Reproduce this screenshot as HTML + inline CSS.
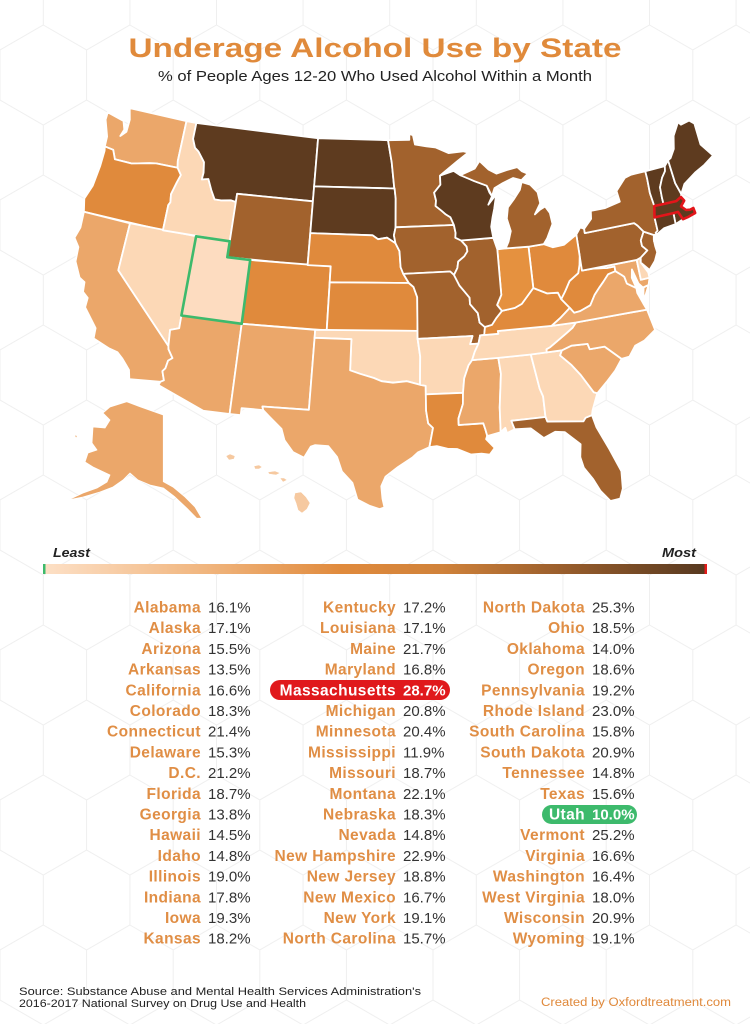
<!DOCTYPE html>
<html><head><meta charset="utf-8">
<style>
html,body{margin:0;padding:0;background:#fff;}
svg{display:block;}
.n{font-family:"Liberation Sans",sans-serif;font-weight:bold;font-size:15.5px;fill:#e08e45;text-anchor:end;letter-spacing:0.4px;}
.v{font-family:"Liberation Sans",sans-serif;font-size:15px;fill:#333;}
.w{fill:#fff;}
</style></head>
<body>
<svg id="root" width="750" height="1024" viewBox="0 0 750 1024" xmlns="http://www.w3.org/2000/svg">
<defs>
<pattern id="hex" width="86.6" height="150" patternUnits="userSpaceOnUse">
<path d="M43.3,25 L86.6,50 L86.6,100 L43.3,125 L0,100 L0,50 Z M43.3,0 L43.3,25 M43.3,125 L43.3,150" fill="none" stroke="#efefef" stroke-width="1"/>
</pattern>
<linearGradient id="lg" x1="0" x2="1" y1="0" y2="0">
<stop offset="0" stop-color="#fde0c6"/>
<stop offset="0.25" stop-color="#f0b47c"/>
<stop offset="0.45" stop-color="#e08a3c"/>
<stop offset="0.6" stop-color="#d0823a"/>
<stop offset="0.78" stop-color="#9a5e2c"/>
<stop offset="1" stop-color="#573920"/>
</linearGradient>
</defs>
<rect width="750" height="1024" fill="#fff"/>
<rect width="750" height="1024" fill="url(#hex)"/>

<text x="375" y="57" text-anchor="middle" font-family="Liberation Sans, sans-serif" font-weight="bold" font-size="27" fill="#e08a3b" textLength="493" lengthAdjust="spacingAndGlyphs">Underage Alcohol Use by State</text>
<text x="375" y="81" text-anchor="middle" font-family="Liberation Sans, sans-serif" font-size="14.5" fill="#222" textLength="434" lengthAdjust="spacingAndGlyphs">% of People Ages 12-20 Who Used Alcohol Within a Month</text>

<g id="map" stroke="#fff" stroke-width="1.8" stroke-linejoin="round"></g>

<!-- Legend -->
<text x="53" y="557" font-family="Liberation Sans, sans-serif" font-weight="bold" font-style="italic" font-size="13" fill="#222" textLength="37" lengthAdjust="spacingAndGlyphs">Least</text>
<text x="662" y="557" font-family="Liberation Sans, sans-serif" font-weight="bold" font-style="italic" font-size="13" fill="#222" textLength="34" lengthAdjust="spacingAndGlyphs">Most</text>
<rect x="44" y="564" width="662" height="10" fill="url(#lg)"/>
<rect x="43" y="564" width="2.5" height="10" fill="#3dba6c"/>
<rect x="704.5" y="564" width="2.5" height="10" fill="#e31b1b"/>

<!-- Table column 1 -->
<g>
<text class="n" x="201" y="612.5">Alabama</text><text class="v" x="208" y="612.5">16.1%</text>
<text class="n" x="201" y="633.2">Alaska</text><text class="v" x="208" y="633.2">17.1%</text>
<text class="n" x="201" y="653.9">Arizona</text><text class="v" x="208" y="653.9">15.5%</text>
<text class="n" x="201" y="674.6">Arkansas</text><text class="v" x="208" y="674.6">13.5%</text>
<text class="n" x="201" y="695.3">California</text><text class="v" x="208" y="695.3">16.6%</text>
<text class="n" x="201" y="716.0">Colorado</text><text class="v" x="208" y="716.0">18.3%</text>
<text class="n" x="201" y="736.7">Connecticut</text><text class="v" x="208" y="736.7">21.4%</text>
<text class="n" x="201" y="757.4">Delaware</text><text class="v" x="208" y="757.4">15.3%</text>
<text class="n" x="201" y="778.1">D.C.</text><text class="v" x="208" y="778.1">21.2%</text>
<text class="n" x="201" y="798.8">Florida</text><text class="v" x="208" y="798.8">18.7%</text>
<text class="n" x="201" y="819.5">Georgia</text><text class="v" x="208" y="819.5">13.8%</text>
<text class="n" x="201" y="840.2">Hawaii</text><text class="v" x="208" y="840.2">14.5%</text>
<text class="n" x="201" y="860.9">Idaho</text><text class="v" x="208" y="860.9">14.8%</text>
<text class="n" x="201" y="881.6">Illinois</text><text class="v" x="208" y="881.6">19.0%</text>
<text class="n" x="201" y="902.3">Indiana</text><text class="v" x="208" y="902.3">17.8%</text>
<text class="n" x="201" y="923.0">Iowa</text><text class="v" x="208" y="923.0">19.3%</text>
<text class="n" x="201" y="943.7">Kansas</text><text class="v" x="208" y="943.7">18.2%</text>
</g>
<!-- Table column 2 -->
<g>
<rect x="270" y="680" width="180" height="20" rx="10" fill="#e0191c"/>
<text class="n" x="396" y="612.5">Kentucky</text><text class="v" x="403" y="612.5">17.2%</text>
<text class="n" x="396" y="633.2">Louisiana</text><text class="v" x="403" y="633.2">17.1%</text>
<text class="n" x="396" y="653.9">Maine</text><text class="v" x="403" y="653.9">21.7%</text>
<text class="n" x="396" y="674.6">Maryland</text><text class="v" x="403" y="674.6">16.8%</text>
<text class="n w" x="396" y="695.3">Massachusetts</text><text class="v w" font-weight="bold" x="403" y="695.3">28.7%</text>
<text class="n" x="396" y="716.0">Michigan</text><text class="v" x="403" y="716.0">20.8%</text>
<text class="n" x="396" y="736.7">Minnesota</text><text class="v" x="403" y="736.7">20.4%</text>
<text class="n" x="396" y="757.4">Mississippi</text><text class="v" x="403" y="757.4">11.9%</text>
<text class="n" x="396" y="778.1">Missouri</text><text class="v" x="403" y="778.1">18.7%</text>
<text class="n" x="396" y="798.8">Montana</text><text class="v" x="403" y="798.8">22.1%</text>
<text class="n" x="396" y="819.5">Nebraska</text><text class="v" x="403" y="819.5">18.3%</text>
<text class="n" x="396" y="840.2">Nevada</text><text class="v" x="403" y="840.2">14.8%</text>
<text class="n" x="396" y="860.9">New Hampshire</text><text class="v" x="403" y="860.9">22.9%</text>
<text class="n" x="396" y="881.6">New Jersey</text><text class="v" x="403" y="881.6">18.8%</text>
<text class="n" x="396" y="902.3">New Mexico</text><text class="v" x="403" y="902.3">16.7%</text>
<text class="n" x="396" y="923.0">New York</text><text class="v" x="403" y="923.0">19.1%</text>
<text class="n" x="396" y="943.7">North Carolina</text><text class="v" x="403" y="943.7">15.7%</text>
</g>
<!-- Table column 3 -->
<g>
<rect x="542" y="805" width="95" height="19" rx="9.5" fill="#3dba6c"/>
<text class="n" x="585" y="612.5">North Dakota</text><text class="v" x="592" y="612.5">25.3%</text>
<text class="n" x="585" y="633.2">Ohio</text><text class="v" x="592" y="633.2">18.5%</text>
<text class="n" x="585" y="653.9">Oklahoma</text><text class="v" x="592" y="653.9">14.0%</text>
<text class="n" x="585" y="674.6">Oregon</text><text class="v" x="592" y="674.6">18.6%</text>
<text class="n" x="585" y="695.3">Pennsylvania</text><text class="v" x="592" y="695.3">19.2%</text>
<text class="n" x="585" y="716.0">Rhode Island</text><text class="v" x="592" y="716.0">23.0%</text>
<text class="n" x="585" y="736.7">South Carolina</text><text class="v" x="592" y="736.7">15.8%</text>
<text class="n" x="585" y="757.4">South Dakota</text><text class="v" x="592" y="757.4">20.9%</text>
<text class="n" x="585" y="778.1">Tennessee</text><text class="v" x="592" y="778.1">14.8%</text>
<text class="n" x="585" y="798.8">Texas</text><text class="v" x="592" y="798.8">15.6%</text>
<text class="n w" x="585" y="819.5">Utah</text><text class="v w" font-weight="bold" x="592" y="819.5">10.0%</text>
<text class="n" x="585" y="840.2">Vermont</text><text class="v" x="592" y="840.2">25.2%</text>
<text class="n" x="585" y="860.9">Virginia</text><text class="v" x="592" y="860.9">16.6%</text>
<text class="n" x="585" y="881.6">Washington</text><text class="v" x="592" y="881.6">16.4%</text>
<text class="n" x="585" y="902.3">West Virginia</text><text class="v" x="592" y="902.3">18.0%</text>
<text class="n" x="585" y="923.0">Wisconsin</text><text class="v" x="592" y="923.0">20.9%</text>
<text class="n" x="585" y="943.7">Wyoming</text><text class="v" x="592" y="943.7">19.1%</text>
</g>

<!-- Footer -->
<text x="19" y="995" font-family="Liberation Sans, sans-serif" font-size="11" fill="#222" textLength="402" lengthAdjust="spacingAndGlyphs">Source: Substance Abuse and Mental Health Services Administration's</text>
<text x="19" y="1007" font-family="Liberation Sans, sans-serif" font-size="11" fill="#222" textLength="287" lengthAdjust="spacingAndGlyphs">2016-2017 National Survey on Drug Use and Health</text>
<text x="541" y="1006" font-family="Liberation Sans, sans-serif" font-size="11.5" fill="#e0893b" textLength="190" lengthAdjust="spacingAndGlyphs">Created by Oxfordtreatment.com</text>
</svg>

<script>
(function(){
var DG=Math.PI/180;
var n=(Math.sin(29.5*DG)+Math.sin(45.5*DG))/2;
var C=Math.pow(Math.cos(29.5*DG),2)+2*n*Math.sin(29.5*DG);
var rho0=Math.sqrt(C-2*n*Math.sin(37.5*DG))/n;
function P(lon,lat){
  var th=n*(lon+96)*DG;
  var r=Math.sqrt(C-2*n*Math.sin(lat*DG))/n;
  var x=r*Math.sin(th), y=rho0-r*Math.cos(th);
  return [400.6+885*x, 323.3-910*y-15.2*x+30*x*x];
}
var D='#5e3b1f',B='#a2622d',O='#e08a3c',L='#eba76a',PL='#fcd8b6';
var S=[
['WA',L,[[[-124.7,48.38],[-123.0,48.12],[-122.7,47.6],[-122.9,47.15],[-122.45,47.5],[-122.45,48.3],[-122.75,49.0],[-117.04,49.0],[-117.04,46.42],[-116.92,46.0],[-118.98,46.0],[-119.6,45.92],[-121.2,45.65],[-122.8,45.65],[-123.2,46.2],[-124.05,46.27],[-124.1,46.9],[-124.7,47.9]]]],
['OR',O,[[[-124.05,46.27],[-123.2,46.2],[-122.8,45.65],[-121.2,45.65],[-119.6,45.92],[-118.98,46.0],[-116.92,46.0],[-116.48,45.6],[-116.7,45.1],[-117.0,44.3],[-116.9,43.8],[-117.03,43.6],[-117.03,42.0],[-124.2,42.0],[-124.5,42.8],[-124.1,43.7],[-123.95,45.0],[-123.95,46.0]]]],
['CA',L,[[[-124.2,42.0],[-120.0,42.0],[-120.0,39.0],[-114.63,35.0],[-114.57,34.8],[-114.13,34.3],[-114.43,34.1],[-114.53,33.6],[-114.72,33.4],[-114.47,32.85],[-114.72,32.72],[-117.12,32.53],[-117.3,33.1],[-118.0,33.7],[-118.5,34.03],[-119.2,34.15],[-120.6,34.55],[-120.65,35.2],[-121.9,36.3],[-121.9,36.9],[-122.4,37.2],[-122.5,37.8],[-123.0,38.0],[-123.7,38.9],[-123.8,39.8],[-124.35,40.3],[-124.1,41.0]]]],
['NV',PL,[[[-120.0,42.0],[-114.04,42.0],[-114.04,36.2],[-114.74,36.0],[-114.63,35.0],[-120.0,39.0]]]],
['ID',PL,[[[-117.04,49.0],[-116.05,49.0],[-116.05,47.98],[-115.7,47.45],[-115.3,47.25],[-114.6,46.65],[-114.45,46.0],[-114.5,45.56],[-113.9,45.65],[-113.45,45.0],[-113.0,44.45],[-112.4,44.45],[-111.5,44.55],[-111.05,44.48],[-111.05,42.0],[-117.03,42.0],[-117.03,43.6],[-116.9,43.8],[-117.0,44.3],[-116.7,45.1],[-116.48,45.6],[-116.92,46.0],[-117.04,46.42]]]],
['MT',D,[[[-116.05,49.0],[-104.05,49.0],[-104.05,45.0],[-111.05,45.0],[-111.05,44.48],[-111.5,44.55],[-112.4,44.45],[-113.0,44.45],[-113.45,45.0],[-113.9,45.65],[-114.5,45.56],[-114.45,46.0],[-114.6,46.65],[-115.3,47.25],[-115.7,47.45],[-116.05,47.98]]]],
['WY',B,[[[-111.05,45.0],[-104.05,45.0],[-104.05,41.0],[-111.05,41.0]]]],
['UT','#fddcc0',[[[-114.05,42.0],[-111.05,42.0],[-111.05,41.0],[-109.05,41.0],[-109.05,37.0],[-114.05,37.0]]]],
['CO',O,[[[-109.05,41.0],[-102.05,41.0],[-102.05,37.0],[-109.05,37.0]]]],
['AZ',L,[[[-114.05,37.0],[-109.05,37.0],[-109.05,31.33],[-111.07,31.33],[-114.81,32.49],[-114.72,32.72],[-114.47,32.85],[-114.72,33.4],[-114.53,33.6],[-114.43,34.1],[-114.13,34.3],[-114.57,34.8],[-114.63,35.0],[-114.74,36.0],[-114.04,36.2]]]],
['NM',L,[[[-109.05,37.0],[-103.0,37.0],[-103.0,36.5],[-103.04,32.0],[-106.62,32.0],[-106.53,31.78],[-108.2,31.78],[-108.2,31.33],[-109.05,31.33]]]],
['ND',D,[[[-104.05,49.0],[-97.23,49.0],[-96.85,47.6],[-96.6,46.0],[-96.56,45.94],[-104.05,45.94]]]],
['SD',D,[[[-104.05,45.94],[-96.56,45.94],[-96.45,45.3],[-96.45,43.5],[-96.6,43.0],[-96.45,42.5],[-97.2,42.85],[-98.0,42.76],[-98.5,43.0],[-104.05,43.0]]]],
['NE',O,[[[-104.05,43.0],[-98.5,43.0],[-98.0,42.76],[-97.2,42.85],[-96.45,42.5],[-96.1,42.0],[-96.0,41.0],[-95.77,40.58],[-95.3,40.0],[-102.05,40.0],[-102.05,41.0],[-104.05,41.0]]]],
['KS',O,[[[-102.05,40.0],[-95.3,40.0],[-94.9,39.75],[-94.6,39.1],[-94.62,37.0],[-102.05,37.0]]]],
['OK',PL,[[[-103.0,37.0],[-94.62,37.0],[-94.62,36.5],[-94.43,35.4],[-94.48,33.64],[-95.5,33.88],[-96.6,33.8],[-97.5,33.9],[-98.1,34.1],[-99.2,34.35],[-100.0,34.56],[-100.0,36.5],[-103.0,36.5]]]],
['TX',L,[[[-103.0,36.5],[-100.0,36.5],[-100.0,34.56],[-99.2,34.35],[-98.1,34.1],[-97.5,33.9],[-96.6,33.8],[-95.5,33.88],[-94.48,33.64],[-94.04,33.55],[-94.04,32.0],[-93.9,31.2],[-93.55,30.9],[-93.7,30.3],[-93.85,29.7],[-94.7,29.4],[-95.1,29.1],[-96.2,28.5],[-97.1,27.9],[-97.4,27.3],[-97.3,26.5],[-97.15,25.95],[-97.5,25.85],[-98.2,26.05],[-99.1,26.45],[-99.5,27.5],[-100.3,28.2],[-100.7,29.1],[-101.4,29.77],[-102.4,29.8],[-102.7,29.7],[-103.15,28.98],[-104.0,29.3],[-104.7,30.0],[-105.0,30.7],[-106.0,31.4],[-106.53,31.78],[-106.62,32.0],[-103.04,32.0]]]],
['MN',B,[[[-97.23,49.0],[-95.15,49.0],[-95.15,49.38],[-94.8,49.3],[-94.6,48.7],[-93.5,48.55],[-92.6,48.45],[-91.4,48.05],[-90.0,48.1],[-89.5,48.0],[-90.6,47.5],[-92.1,46.75],[-92.3,46.65],[-92.29,46.08],[-92.9,45.6],[-92.75,45.1],[-92.8,44.75],[-92.3,44.45],[-91.9,44.2],[-91.5,44.0],[-91.22,43.5],[-96.45,43.5],[-96.45,45.3],[-96.56,45.94],[-96.6,46.0],[-96.85,47.6]]]],
['IA',B,[[[-96.45,43.5],[-91.22,43.5],[-91.1,43.0],[-91.15,42.7],[-90.65,42.5],[-90.2,42.1],[-90.15,41.8],[-90.45,41.5],[-91.0,41.2],[-91.1,40.8],[-91.42,40.38],[-91.73,40.61],[-95.77,40.58],[-96.0,41.0],[-96.1,42.0],[-96.45,42.5],[-96.6,43.0]]]],
['MO',B,[[[-95.77,40.58],[-91.73,40.61],[-91.42,40.38],[-91.0,39.7],[-90.6,39.3],[-90.2,38.9],[-90.2,38.5],[-89.6,37.9],[-89.5,37.3],[-89.1,37.0],[-89.1,36.95],[-89.2,36.5],[-89.53,36.5],[-89.7,36.0],[-90.38,36.0],[-90.15,36.5],[-94.62,36.5],[-94.62,37.0],[-94.6,39.1],[-94.9,39.75],[-95.3,40.0]]]],
['AR',PL,[[[-94.62,36.5],[-90.15,36.5],[-90.38,36.0],[-89.7,36.0],[-90.05,35.5],[-90.3,35.0],[-90.6,34.7],[-91.0,33.9],[-91.15,33.0],[-94.04,33.02],[-94.04,33.55],[-94.48,33.64],[-94.43,35.4]]]],
['LA',O,[[[-94.04,33.02],[-91.15,33.0],[-91.2,32.3],[-91.6,31.4],[-91.6,31.0],[-89.73,31.0],[-89.6,30.6],[-89.5,30.2],[-89.6,30.0],[-89.0,29.4],[-89.4,29.0],[-90.0,29.1],[-90.8,29.1],[-91.8,29.5],[-92.5,29.55],[-93.3,29.75],[-93.85,29.7],[-93.7,30.3],[-93.55,30.9],[-93.9,31.2],[-94.04,32.0]]]],
['MS',L,[[[-91.15,33.0],[-91.0,33.9],[-90.6,34.7],[-90.3,35.0],[-88.2,35.0],[-88.1,34.0],[-88.4,31.9],[-88.47,30.35],[-89.4,30.2],[-89.5,30.2],[-89.6,30.6],[-89.73,31.0],[-91.6,31.0],[-91.6,31.4],[-91.2,32.3]]]],
['AL',PL,[[[-88.2,35.0],[-85.6,35.0],[-85.2,32.8],[-85.0,32.3],[-85.0,31.0],[-87.6,31.0],[-87.4,30.45],[-88.0,30.25],[-88.1,30.6],[-88.47,30.35],[-88.4,31.9],[-88.1,34.0]]]],
['GA',PL,[[[-85.6,35.0],[-84.32,35.0],[-83.1,35.0],[-83.3,34.7],[-82.5,34.0],[-81.9,33.3],[-81.1,32.1],[-80.85,32.0],[-81.4,31.0],[-81.5,30.7],[-82.0,30.6],[-82.2,30.4],[-84.9,30.7],[-85.0,31.0],[-85.0,32.3],[-85.2,32.8]]]],
['FL',B,[[[-87.6,31.0],[-85.0,31.0],[-84.9,30.7],[-82.2,30.4],[-82.0,30.6],[-81.5,30.7],[-81.3,29.9],[-80.6,28.4],[-80.0,26.9],[-80.1,25.8],[-80.4,25.2],[-81.1,25.15],[-81.7,25.9],[-82.1,26.7],[-82.65,27.5],[-82.8,28.2],[-82.65,29.0],[-83.7,29.9],[-84.4,30.0],[-85.3,29.7],[-86.2,30.4],[-87.4,30.45]]]],
['SC',L,[[[-83.1,35.0],[-82.3,35.2],[-81.0,35.15],[-80.9,34.8],[-79.7,34.8],[-78.55,33.85],[-79.2,33.2],[-80.0,32.6],[-80.85,32.0],[-81.1,32.1],[-81.9,33.3],[-82.5,34.0],[-83.3,34.7]]]],
['NC',L,[[[-84.32,35.0],[-83.1,35.0],[-82.3,35.2],[-81.0,35.15],[-80.9,34.8],[-79.7,34.8],[-78.55,33.85],[-77.9,33.9],[-77.3,34.5],[-76.5,34.7],[-75.5,35.2],[-75.8,36.55],[-81.68,36.59],[-82.0,36.3],[-82.6,36.0],[-83.5,35.55],[-84.0,35.3],[-84.32,35.2]]]],
['TN',PL,[[[-90.3,35.0],[-88.2,35.0],[-85.6,35.0],[-84.32,35.0],[-84.32,35.2],[-84.0,35.3],[-83.5,35.55],[-82.6,36.0],[-82.0,36.3],[-81.68,36.59],[-83.68,36.6],[-88.07,36.68],[-88.05,36.5],[-89.53,36.5],[-89.7,36.0],[-90.05,35.5]]]],
['KY',O,[[[-89.53,36.5],[-88.05,36.5],[-88.07,36.68],[-83.68,36.6],[-82.9,37.0],[-82.0,37.55],[-82.6,38.17],[-82.8,38.6],[-83.7,38.65],[-84.8,39.1],[-85.9,38.2],[-86.5,38.0],[-87.6,37.9],[-88.1,37.5],[-88.5,37.1],[-89.1,37.0],[-89.1,36.95],[-89.2,36.5]]]],
['WV',O,[[[-82.6,38.17],[-82.0,37.55],[-81.7,37.2],[-81.2,37.25],[-80.3,37.5],[-79.8,38.1],[-79.3,38.5],[-78.9,38.8],[-78.4,39.2],[-77.75,39.3],[-77.75,39.6],[-78.4,39.6],[-79.48,39.72],[-80.52,39.72],[-80.52,40.64],[-80.65,40.1],[-80.87,39.6],[-81.7,39.2],[-82.2,38.6]]]],
['VA',L,[[[-83.68,36.6],[-81.68,36.59],[-75.8,36.55],[-76.0,37.0],[-76.3,37.7],[-76.3,38.0],[-77.0,38.4],[-77.1,38.85],[-77.3,39.0],[-77.75,39.3],[-78.4,39.2],[-78.9,38.8],[-79.3,38.5],[-79.8,38.1],[-80.3,37.5],[-81.2,37.25],[-81.7,37.2],[-82.0,37.55],[-82.9,37.0]],[[-75.25,38.03],[-75.7,37.95],[-75.95,37.15],[-75.6,37.55]]]],
['MD',L,[[[-79.48,39.72],[-75.79,39.72],[-75.79,38.45],[-75.05,38.45],[-75.25,38.03],[-75.75,37.95],[-76.05,38.25],[-76.35,39.2],[-76.5,38.7],[-76.3,38.0],[-77.0,38.4],[-77.1,38.85],[-77.3,39.0],[-77.75,39.3],[-77.75,39.6],[-78.4,39.6]]]],
['DE',PL,[[[-75.79,39.72],[-75.42,39.8],[-75.5,39.5],[-75.05,38.8],[-75.05,38.45],[-75.79,38.45]]]],
['PA',B,[[[-80.52,39.72],[-80.52,42.0],[-80.08,42.4],[-79.76,42.27],[-79.76,42.0],[-75.35,42.0],[-75.1,41.8],[-74.7,41.35],[-75.1,40.85],[-75.1,40.5],[-74.73,40.15],[-75.42,39.8],[-75.79,39.72]]]],
['NJ',B,[[[-74.7,41.35],[-73.9,40.99],[-74.0,40.7],[-74.0,40.3],[-73.95,39.9],[-74.3,39.4],[-74.9,38.93],[-75.5,39.5],[-75.42,39.8],[-74.73,40.15],[-75.1,40.5],[-75.1,40.85]]]],
['NY',B,[[[-79.76,42.0],[-79.76,42.27],[-79.0,42.8],[-78.9,43.3],[-77.6,43.3],[-76.2,43.5],[-76.3,44.2],[-75.3,44.9],[-74.7,45.0],[-73.35,45.0],[-73.35,44.5],[-73.4,43.6],[-73.28,42.75],[-73.5,42.05],[-73.5,41.2],[-73.7,41.1],[-73.65,40.98],[-73.9,40.99],[-74.7,41.35],[-75.1,41.8],[-75.35,42.0]],[[-74.0,40.6],[-73.0,40.8],[-71.9,41.1],[-72.6,40.85],[-73.9,40.55]]]],
['VT',D,[[[-73.35,45.0],[-71.5,45.01],[-71.6,44.7],[-72.0,44.35],[-72.4,43.8],[-72.45,43.15],[-72.45,42.73],[-73.28,42.75],[-73.4,43.6],[-73.35,44.5]]]],
['NH',D,[[[-71.5,45.01],[-71.08,45.3],[-70.98,43.8],[-70.7,43.05],[-70.8,42.87],[-71.3,42.7],[-72.45,42.73],[-72.45,43.15],[-72.4,43.8],[-72.0,44.35],[-71.6,44.7]]]],
['ME',D,[[[-71.08,45.3],[-70.98,43.8],[-70.7,43.05],[-70.2,43.6],[-69.0,44.1],[-68.0,44.4],[-67.0,44.8],[-67.8,45.7],[-67.8,47.07],[-68.2,47.35],[-69.05,47.25],[-69.25,47.46],[-70.0,46.7],[-70.3,45.9],[-70.8,45.4]]]],
['RI',D,[[[-71.8,42.02],[-71.38,42.02],[-71.12,41.5],[-71.85,41.32]]]],
['CT',D,[[[-73.5,42.05],[-71.8,42.02],[-71.85,41.32],[-72.9,41.25],[-73.65,40.98],[-73.7,41.1],[-73.5,41.2]]]],
['OH',O,[[[-84.8,41.7],[-83.45,41.73],[-82.7,41.45],[-81.7,41.5],[-80.52,42.0],[-80.52,40.64],[-80.65,40.1],[-80.87,39.6],[-81.7,39.2],[-82.2,38.6],[-82.6,38.17],[-82.8,38.6],[-83.7,38.65],[-84.8,39.1]]]],
['IN','#e5913f',[[[-87.53,41.76],[-86.8,41.76],[-84.8,41.7],[-84.8,39.1],[-85.9,38.2],[-86.5,38.0],[-87.6,37.9],[-87.95,38.3],[-87.53,38.9]]]],
['IL',B,[[[-90.65,42.5],[-87.8,42.5],[-87.53,41.76],[-87.53,38.9],[-87.95,38.3],[-87.6,37.9],[-88.1,37.5],[-88.5,37.1],[-89.1,37.0],[-89.5,37.3],[-89.6,37.9],[-90.2,38.5],[-90.2,38.9],[-90.6,39.3],[-91.0,39.7],[-91.42,40.38],[-91.1,40.8],[-91.0,41.2],[-90.45,41.5],[-90.15,41.8],[-90.2,42.1]]]],
['WI',D,[[[-92.29,46.08],[-92.3,46.65],[-92.0,46.72],[-91.0,46.9],[-90.4,46.6],[-90.0,46.5],[-89.1,46.15],[-88.0,45.8],[-87.8,45.35],[-87.6,45.1],[-88.0,44.6],[-87.2,45.2],[-87.5,44.3],[-87.7,43.8],[-87.9,43.2],[-87.8,42.5],[-90.65,42.5],[-91.15,42.7],[-91.1,43.0],[-91.22,43.5],[-91.5,44.0],[-91.9,44.2],[-92.3,44.45],[-92.8,44.75],[-92.75,45.1],[-92.9,45.6]]]],
['MI',B,[[[-86.8,41.76],[-84.8,41.7],[-83.45,41.73],[-83.1,42.05],[-82.45,42.9],[-82.55,43.6],[-82.9,44.05],[-83.4,43.9],[-83.9,43.65],[-83.3,44.3],[-83.4,45.0],[-84.0,45.55],[-84.75,45.78],[-85.0,45.3],[-85.6,44.8],[-86.25,44.3],[-86.45,43.6],[-86.2,42.8],[-86.5,42.15]],[[-90.4,46.6],[-89.1,46.15],[-88.0,45.8],[-87.6,45.1],[-87.3,45.6],[-86.5,45.85],[-85.5,46.1],[-84.75,45.9],[-84.1,46.25],[-84.6,46.45],[-85.0,46.75],[-86.0,46.65],[-87.0,46.5],[-87.7,46.8],[-88.3,47.25],[-88.5,47.4],[-89.0,46.95],[-89.6,46.8]]]]
];
var NS='http://www.w3.org/2000/svg';
var g=document.getElementById('map');
function mk(d,fill,stroke,sw){
  var p=document.createElementNS(NS,'path');
  p.setAttribute('d',d);p.setAttribute('fill',fill);
  if(stroke){p.setAttribute('stroke',stroke);p.setAttribute('stroke-width',sw);}
  g.appendChild(p);return p;
}
function pathOf(polys){
  return polys.map(function(poly){
    return 'M'+poly.map(function(q){var r=P(q[0],q[1]);return r[0].toFixed(1)+','+r[1].toFixed(1);}).join('L')+'Z';
  }).join('');
}
var dUT='',dMA='';
S.forEach(function(s){
  var d=pathOf(s[2]);
  mk(d,s[1]);
  if(s[0]==='UT')dUT=d;
});
// Massachusetts
dMA=pathOf([[[-73.5,42.05],[-73.28,42.75],[-72.45,42.73],[-71.3,42.7],[-70.8,42.87],[-70.6,42.6],[-71.0,42.3],[-70.65,42.0],[-70.3,41.95],[-70.0,42.0],[-69.95,41.67],[-70.6,41.55],[-71.12,41.5],[-71.38,42.02],[-71.8,42.02]]]);
mk(dMA,'#5e3b1f');
// Alaska (pixel coords)
var ak=[[126.7,401.7],[140,406.7],[163.3,415],[163.3,481.7],[173,487],[185,497],[195,507],[201.7,518.3],[196.7,518.3],[186.7,508],[175,497],[163.3,488],[150,485],[138,480],[130,473],[123,480],[113,487],[100,492],[83,497],[68,500],[83,493],[97,488],[107,482],[110,475],[93,467],[85,462],[88,453],[97,450],[92,443],[93,427],[105,428],[110,420],[103,413],[110,407]];
mk('M'+ak.map(function(q){return q.join(',');}).join('L')+'Z','#eba76a','#fff','0.8');
mk('M74,434l3,1l1,3l-3,0z','#eba76a');
// Hawaii
var hc='#f6c9a0';
mk('M226,456l4,-2l5,2l-1,3l-5,1z',hc,'#fff','0.5');
mk('M254,466l5,-1l3,2l-3,2l-4,0z',hc,'#fff','0.5');
mk('M268,472l7,-1l5,2l-4,2l-7,-1z',hc,'#fff','0.5');
mk('M280,478l4,0l3,2l-4,2z',hc,'#fff','0.5');
mk('M295,493l6,-1l5,5l4,6l-3,6l-5,4l-4,-3l-2,-7l-2,-5z',hc,'#fff','0.5');
// highlight outlines
mk(dUT,'none','#3dba6c','2.6');
mk(dMA,'none','#e3151a','2.6');
})();
</script>
</body></html>
